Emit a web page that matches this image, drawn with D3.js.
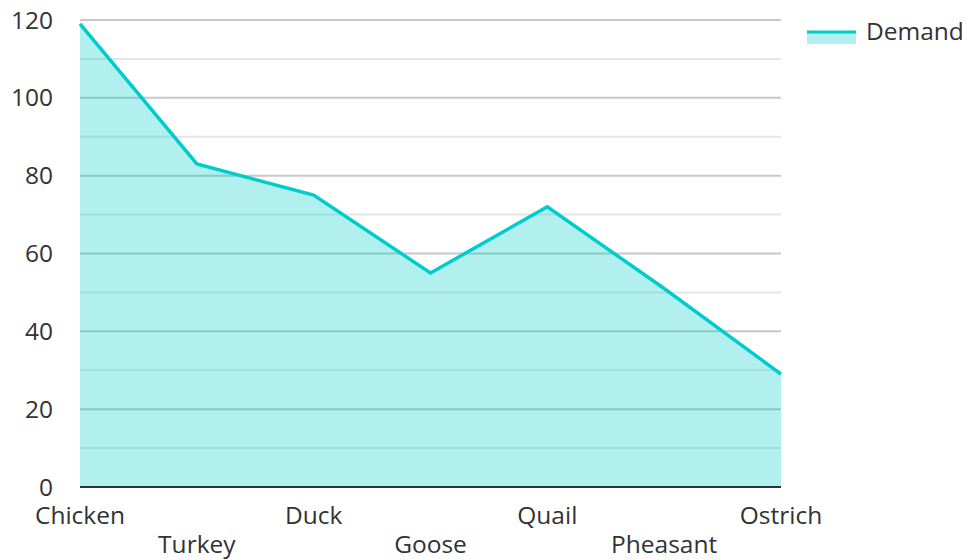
<!DOCTYPE html>
<html>
<head>
<meta charset="utf-8">
<script src="https://d3js.org/d3.v7.min.js"></script>
<style>
  body { margin: 0; background: #fff; }
  svg text { font-family: "Open Sans", "Noto Sans", sans-serif; fill: #333; }
</style>
</head>
<body>
<div id="chart"></div>
<script>
// data
var categories = ["Chicken", "Turkey", "Duck", "Goose", "Quail", "Pheasant", "Ostrich"];
var demand = [119, 83, 75, 55, 72, 51, 29];
var yTicks = [0, 20, 40, 60, 80, 100, 120];
var seriesName = "Demand";

var width = 967, height = 560;
var plotLeft = 80, plotRight = 781, plotTop = 20, plotBottom = 487;
var fontSize = "24.5px";

var svg = d3.select("#chart").append("svg")
    .attr("width", width)
    .attr("height", height);

var x = d3.scalePoint().domain(categories).range([plotLeft, plotRight]);
var y = d3.scaleLinear().domain([0, 120]).range([plotBottom, plotTop]);

var points = categories.map(function (c, i) { return { key: c, value: demand[i] }; });

// grid lines, minor every 10, major every 20
var grid = svg.append("g");
grid.selectAll("line")
    .data(d3.range(10, 121, 10))
    .enter().append("line")
    .attr("x1", plotLeft).attr("x2", plotRight)
    .attr("y1", function (d) { return y(d); })
    .attr("y2", function (d) { return y(d); })
    .attr("stroke", function (d) { return d % 20 === 0 ? "#c8c8c8" : "#e6e6e6"; })
    .attr("stroke-width", 2);

// area + line
var area = d3.area()
    .x(function (d) { return x(d.key); })
    .y0(y(0))
    .y1(function (d) { return y(d.value); });
var line = d3.line()
    .x(function (d) { return x(d.key); })
    .y(function (d) { return y(d.value); });

svg.append("path")
    .datum(points)
    .attr("d", area)
    .attr("fill", "rgba(0,204,204,0.3)");
svg.append("path")
    .datum(points)
    .attr("d", line)
    .attr("fill", "none")
    .attr("stroke", "#00cccc")
    .attr("stroke-width", 3.5);

// baseline
svg.append("line")
    .attr("x1", plotLeft).attr("x2", plotRight)
    .attr("y1", y(0)).attr("y2", y(0))
    .attr("stroke", "#333")
    .attr("stroke-width", 2);

// y axis labels
svg.append("g").selectAll("text")
    .data(yTicks)
    .enter().append("text")
    .attr("x", 53)
    .attr("y", function (d) { return y(d); })
    .attr("dy", "0.35em")
    .attr("text-anchor", "end")
    .style("font-size", fontSize)
    .text(function (d) { return d; });

// x axis labels, staggered
svg.append("g").selectAll("text")
    .data(categories)
    .enter().append("text")
    .attr("x", function (d) { return x(d); })
    .attr("y", function (d, i) { return i % 2 === 0 ? 524 : 553; })
    .attr("text-anchor", "middle")
    .style("font-size", fontSize)
    .text(function (d) { return d; });

// legend
var lg = svg.append("g").attr("transform", "translate(807,0)");
lg.append("rect")
    .attr("x", 0).attr("y", 31)
    .attr("width", 49).attr("height", 13)
    .attr("fill", "rgba(0,204,204,0.3)");
lg.append("line")
    .attr("x1", 0).attr("x2", 49)
    .attr("y1", 32).attr("y2", 32)
    .attr("stroke", "#00cccc")
    .attr("stroke-width", 3);
lg.append("text")
    .attr("x", 59).attr("y", 40)
    .style("font-size", fontSize)
    .text(seriesName);
</script>
</body>
</html>
